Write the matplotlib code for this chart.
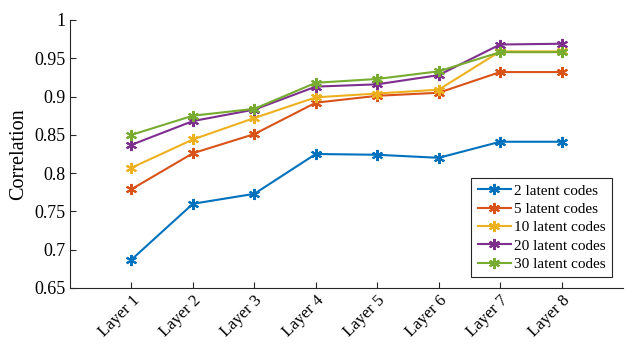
import numpy as np
import matplotlib.pyplot as plt

# Data -----------------------------------------------------------------
layers = ["Layer 1", "Layer 2", "Layer 3", "Layer 4",
          "Layer 5", "Layer 6", "Layer 7", "Layer 8"]
codes_2 = [0.687, 0.760, 0.773, 0.825, 0.824, 0.820, 0.841, 0.841]
codes_5 = [0.779, 0.826, 0.851, 0.892, 0.901, 0.905, 0.932, 0.932]
codes_10 = [0.807, 0.844, 0.872, 0.899, 0.904, 0.909, 0.959, 0.959]
codes_20 = [0.837, 0.868, 0.883, 0.913, 0.916, 0.928, 0.968, 0.969]
codes_30 = [0.850, 0.875, 0.884, 0.918, 0.923, 0.933, 0.958, 0.958]
labels = ["2 latent codes", "5 latent codes", "10 latent codes",
          "20 latent codes", "30 latent codes"]

# MATLAB default colour order
colors = ["#0072BD", "#D95319", "#EDB120", "#7E2F8E", "#77AC30"]

plt.rcParams["font.family"] = "Liberation Serif"

fig = plt.figure(figsize=(6.35, 3.54), dpi=100)
ax = fig.add_axes([70 / 635, 66 / 354, 553 / 635, 268 / 354])

x = np.arange(1, len(layers) + 1)
for ys, c, lab in zip([codes_2, codes_5, codes_10, codes_20, codes_30], colors, labels):
    ax.plot(x, ys, color=c, lw=1.5, marker=(6, 2, 0), ms=8, mew=1.5, label=lab)

ax.set_xlim(0, 9)
ax.set_ylim(0.65, 1.0)
ax.set_xticks(x)
ax.set_xticklabels(layers, rotation=45, ha="right", rotation_mode="anchor")
ax.set_yticks([0.65, 0.7, 0.75, 0.8, 0.85, 0.9, 0.95, 1.0])
ax.set_yticklabels(["0.65", "0.7", "0.75", "0.8", "0.85", "0.9", "0.95", "1"])
ax.tick_params(direction="in", length=4, color="#262626")
ax.tick_params(axis="y", labelsize=13)
ax.tick_params(axis="x", labelsize=12)
ax.set_ylabel("Correlation", fontsize=14.5)

ax.spines["top"].set_visible(False)
ax.spines["right"].set_visible(False)
for s in ("left", "bottom"):
    ax.spines[s].set_color("#262626")

leg = ax.legend(loc="lower right", fontsize=11, fancybox=False, framealpha=1,
                edgecolor="#262626", handlelength=2.2, handletextpad=0.2,
                borderpad=0.4, labelspacing=0.3, borderaxespad=0,
                bbox_to_anchor=(0.98, 0.041))
leg.get_frame().set_linewidth(0.8)

fig.savefig("out.png", dpi=100)
